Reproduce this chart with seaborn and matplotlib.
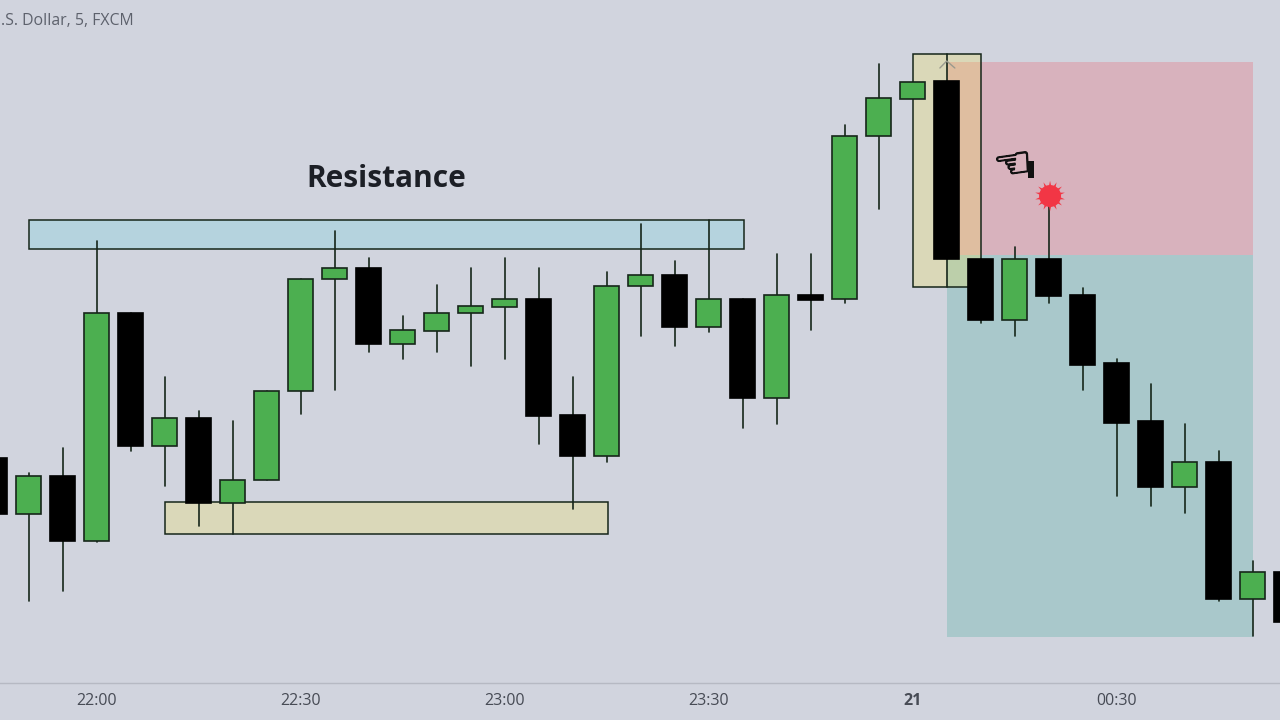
#!/usr/bin/env python3
"""
Recreate the 5 minute candlestick chart with resistance / support zones.
"""
import pandas as pd
import seaborn as sns
import matplotlib.pyplot as plt
import matplotlib.patheffects as pe
from matplotlib.patches import Rectangle

# minutes after 22:00 for each candle
minutes = [-15, -10, -5, 0, 5, 10, 15, 20, 25, 30, 35, 40, 45, 50, 55, 60, 65, 70, 75, 80,
           85, 90, 95, 100, 105, 110, 115, 120, 125, 130, 135, 140, 145, 150, 155, 160,
           165, 170, 175]
opens = [262, 206, 244, 179, 407, 274, 302, 217, 240, 329, 441, 452, 376, 389, 407, 413,
         421, 305, 264, 434, 445, 393, 421, 322, 425, 421, 584, 621, 639, 461, 400, 461,
         425, 357, 299, 233, 258, 121, 148]
highs = [262, 247, 272, 479, 407, 343, 309, 299, 329, 441, 489, 462, 404, 435, 452, 462,
         452, 343, 448, 496, 459, 500, 421, 466, 466, 595, 656, 638, 666, 461, 473, 517,
         432, 361, 336, 296, 269, 159, 148]
lows = [206, 119, 129, 178, 269, 234, 194, 186, 240, 306, 330, 368, 361, 368, 354, 361,
        276, 211, 258, 384, 374, 388, 292, 296, 390, 417, 511, 621, 433, 397, 384, 417,
        330, 224, 214, 207, 119, 84, 98]
closes = [206, 244, 179, 407, 274, 302, 217, 240, 329, 441, 452, 376, 390, 407, 414, 421,
          304, 264, 434, 445, 393, 421, 322, 425, 420, 584, 622, 638, 461, 400, 461, 424,
          355, 297, 233, 258, 121, 148, 98]

tick_minutes = [0, 30, 60, 90, 120, 150]
tick_labels = ['22:00', '22:30', '23:00', '23:30', '21', '00:30']

BG = '#d1d4de'
GREEN = '#4caf50'
EDGE = '#16261a'

sns.set_theme(style='white', rc={'axes.facecolor': BG, 'figure.facecolor': BG})
plt.rcParams['font.family'] = ['Open Sans', 'DejaVu Sans']

df = pd.DataFrame({'minute': minutes, 'open': opens, 'high': highs, 'low': lows, 'close': closes})
df['top'] = df[['open', 'close']].max(axis=1)
df['bottom'] = df[['open', 'close']].min(axis=1)
df['height'] = df['top'] - df['bottom']

fig = plt.figure(figsize=(12.8, 7.2), dpi=100)
ax = fig.add_axes([0, 37 / 720, 1, 683 / 720])

# zones first, candles go over them
ax.add_patch(Rectangle((125.0, 465), 45.0, 193, fc='#d8b2bd', ec='none', zorder=1))
ax.add_patch(Rectangle((125.0, 83), 45.0, 382, fc='#a9c8cb', ec='none', zorder=1))
ax.add_patch(Rectangle((-10, 471), 105.2, 29, fc='#b5d3de', ec=EDGE, lw=1.1, zorder=1.2))
ax.add_patch(Rectangle((10, 186), 65.2, 32.5, fc='#dad8b9', ec=EDGE, lw=1.1, zorder=1.2))
ax.add_patch(Rectangle((120.1, 433), 9.9, 233, fc=(245 / 255, 228 / 255, 74 / 255, 0.25),
                       ec=EDGE, lw=1.1, zorder=1.2))

# wicks
wicks = df.melt(id_vars='minute', value_vars=['low', 'high'], value_name='price')
sns.lineplot(data=wicks, x='minute', y='price', units='minute', estimator=None,
             color=EDGE, lw=1.2, ax=ax, legend=False, zorder=2)

# bodies, one call per colour since bottom has to line up with each subset
up = df[df['close'] > df['open']].sort_values('minute')
down = df[df['close'] <= df['open']].sort_values('minute')
sns.barplot(data=up, x='minute', y='height', bottom=up['bottom'].values, native_scale=True,
            width=0.74, color=GREEN, saturation=1, edgecolor=EDGE, linewidth=1.2,
            errorbar=None, ax=ax, zorder=3)
sns.barplot(data=down, x='minute', y='height', bottom=down['bottom'].values, native_scale=True,
            width=0.74, color='black', saturation=1, edgecolor='black', linewidth=1.2,
            errorbar=None, ax=ax, zorder=3)

# red burst on top of the 00:20 wick, small chevron over 00:05
sns.scatterplot(x=[140.2], y=[524], marker=(14, 1, 0), s=480, color='#f23645',
                edgecolor='none', ax=ax, zorder=4)
sns.scatterplot(x=[140.2], y=[524], marker='o', s=250, color='#f23645',
                edgecolor='none', ax=ax, zorder=4)
ax.plot([124, 125, 126.2], [652, 659, 652], color='#9a9a8e', lw=1, zorder=4)

# pointing hand with its dark cuff
ax.text(134.8, 554, '\u261c', family='DejaVu Sans', fontsize=31, rotation=8,
        ha='center', va='center', color='#111111', zorder=5,
        path_effects=[pe.withStroke(linewidth=1, foreground='#111111')])
ax.add_patch(Rectangle((136.9, 542), 0.9, 17, fc='#111111', ec='none', zorder=5))

ax.text(42.6, 541, 'Resistance', fontsize=21.5, fontweight='bold', ha='center', va='center',
        color='#1c1f26', zorder=5)
fig.text(1 / 1280, 1 - 21 / 720, '.S. Dollar, 5, FXCM', fontsize=11.4, va='center',
         color='#5d616c')

ax.set_xlim((-96 - 0.7) / 6.8, (1184 - 0.7) / 6.8)
ax.set_ylim(37, 720)
ax.set_xticks(tick_minutes)
ax.set_xticklabels(tick_labels, fontsize=11.5, color='#474b55')
ax.get_xticklabels()[4].set_fontweight('bold')
ax.tick_params(axis='x', length=0, pad=7)
ax.set_yticks([])
ax.set_xlabel('')
ax.set_ylabel('')
sns.despine(ax=ax, left=True, top=True, right=True)
ax.spines['bottom'].set_color('#b6b9c3')
ax.spines['bottom'].set_linewidth(1)

fig.savefig('out.png', dpi=100, facecolor=BG)
